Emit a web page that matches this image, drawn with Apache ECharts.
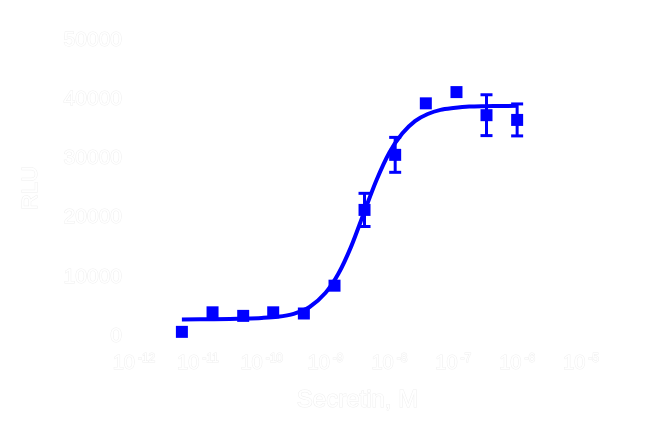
<!DOCTYPE html>
<html lang="en">
<head>
    <meta charset="UTF-8">
    <title></title>
    <style type="text/css">
        body{margin:0;background:#fff;}
        #main{width:650px;height:434px;}
    </style>
</head>
<body>
<div id="main"></div>
<script src="https://cdn.jsdelivr.net/npm/echarts@6/dist/echarts.min.js"></script>
<script>
    // log10 of secretin concentration (M), 3-fold dilutions
    var doseLog = [-11.25, -10.77, -10.29, -9.82, -9.34, -8.86, -8.39, -7.91, -7.43, -6.95, -6.48, -6.00];
    var rlu = [700, 4000, 3400, 4000, 3800, 8500, 21300, 30600, 39300, 41200, 37300, 36500];
    var rluErr = [0, 0, 0, 0, 0, 0, 2800, 2950, 0, 0, 3450, 2700];

    // fitted curve
    var fitLog = [-11.25, -10.75, -10.25, -10.0, -9.75, -9.5, -9.25, -9.0, -8.8, -8.6, -8.4, -8.2, -8.0, -7.8, -7.6, -7.4, -7.2, -7.0, -6.75, -6.5, -6.25, -6.0];
    var fitRlu = [2800, 2840, 2950, 3050, 3250, 3750, 4900, 7300, 10500, 15100, 20800, 26400, 31000, 34200, 36300, 37500, 38200, 38500, 38750, 38820, 38860, 38880];

    var xTicks = [-12, -11, -10, -9, -8, -7, -6, -5];
    var yTicks = [0, 10000, 20000, 30000, 40000, 50000];

    var blue = '#0000ff';
    var txt = '#ffffff';

    var points = doseLog.map(function (x, i) { return [x, rlu[i]]; });
    var curve = fitLog.map(function (x, i) { return [x, fitRlu[i]]; });
    var bars = doseLog.map(function (x, i) { return [x, rlu[i], rluErr[i]]; });

    // white text only shows as a faint grey rim in the original
    function txtStyle(size, extra) {
        var s = {color: txt, fontSize: size, fontFamily: 'Liberation Sans',
                 textBorderColor: '#efefef', textBorderWidth: 1};
        for (var k in extra) s[k] = extra[k];
        return s;
    }

    var myChart = echarts.init(document.getElementById('main'));
    option = {
        animation: false,
        backgroundColor: '#fff',
        grid: {left: 134, right: 69, top: 40, bottom: 98},
        xAxis: {
            type: 'value',
            min: xTicks[0],
            max: xTicks[xTicks.length - 1],
            interval: 1,
            name: 'Secretin, M',
            nameLocation: 'middle',
            nameGap: 52,
            nameTextStyle: txtStyle(24),
            axisLine: {show: false},
            axisTick: {show: false},
            splitLine: {show: false},
            axisLabel: {
                margin: 17,
                color: txt,
                fontFamily: 'Liberation Sans',
                formatter: function (v) {
                    return '{b|10}{s|' + v + '}';
                },
                rich: {
                    b: txtStyle(20),
                    s: txtStyle(12, {verticalAlign: 'top', padding: [0, 0, 0, 3]})
                }
            }
        },
        yAxis: {
            type: 'value',
            min: yTicks[0],
            max: yTicks[yTicks.length - 1],
            interval: 10000,
            name: 'RLU',
            nameLocation: 'middle',
            nameGap: 92,
            nameRotate: 90,
            nameTextStyle: txtStyle(22),
            axisLine: {show: false},
            axisTick: {show: false},
            splitLine: {show: false},
            axisLabel: txtStyle(21, {
                margin: 12,
                formatter: function (v) { return String(v); }
            })
        },
        series: [
            {
                name: 'fit',
                type: 'line',
                data: curve,
                smooth: 0.3,
                symbol: 'none',
                lineStyle: {color: blue, width: 4},
                z: 2
            },
            {
                name: 'error',
                type: 'custom',
                data: bars,
                z: 3,
                renderItem: function (params, api) {
                    var err = api.value(2);
                    if (!err) return null;
                    var x = api.value(0), y = api.value(1);
                    var top = api.coord([x, y + err]);
                    var bot = api.coord([x, y - err]);
                    var w = 6;
                    var st = {stroke: blue, lineWidth: 3};
                    return {
                        type: 'group',
                        children: [
                            {type: 'line', shape: {x1: top[0], y1: top[1], x2: bot[0], y2: bot[1]}, style: st},
                            {type: 'line', shape: {x1: top[0] - w, y1: top[1], x2: top[0] + w, y2: top[1]}, style: st},
                            {type: 'line', shape: {x1: bot[0] - w, y1: bot[1], x2: bot[0] + w, y2: bot[1]}, style: st}
                        ]
                    };
                }
            },
            {
                name: 'RLU',
                type: 'scatter',
                data: points,
                symbol: 'rect',
                symbolSize: 12,
                itemStyle: {color: blue, opacity: 1},
                z: 4
            }
        ]
    };
    myChart.setOption(option);
</script>
</body>
</html>
